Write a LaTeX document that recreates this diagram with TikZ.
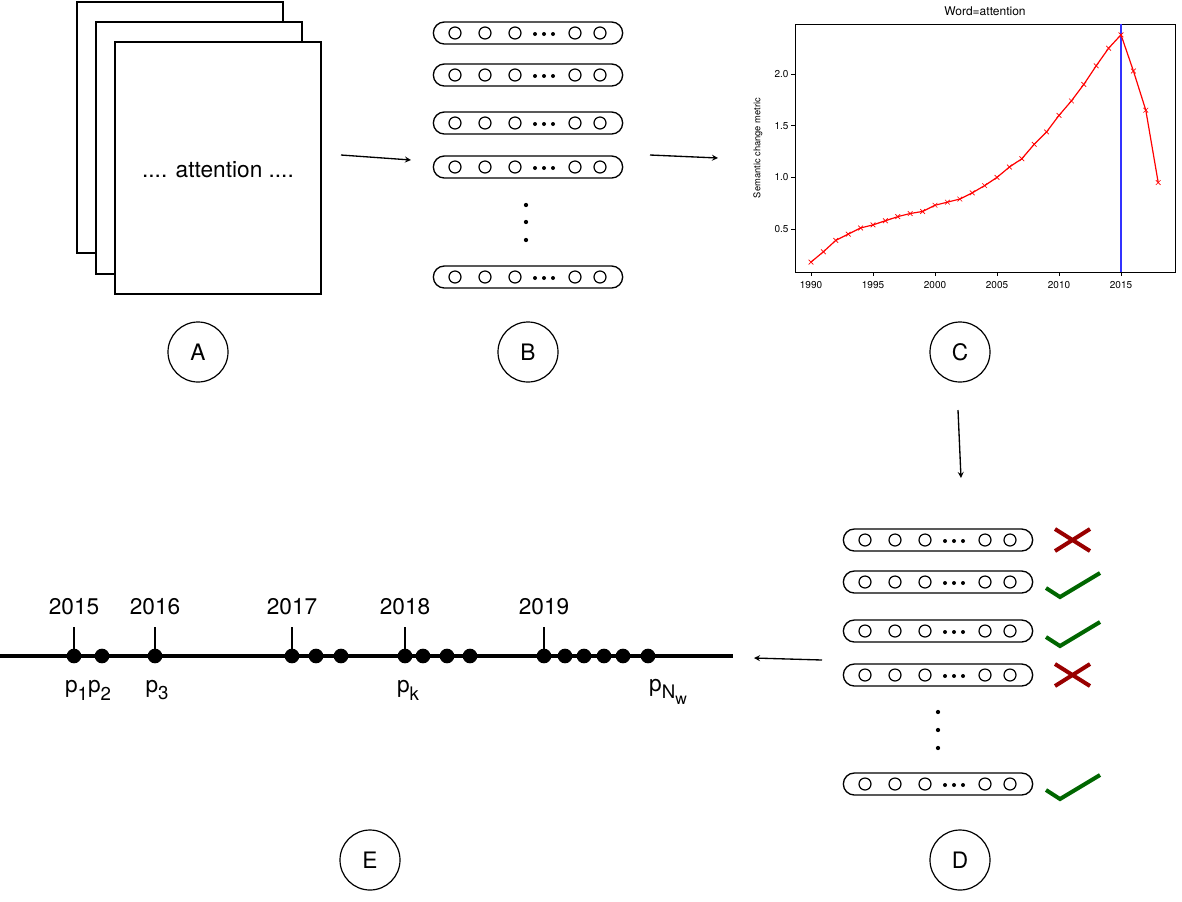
\documentclass[tikz,border=0pt]{standalone}
\usepackage{fontspec}
\setmainfont{TeX Gyre Heros}
\newcommand{\sbs}[1]{\raisebox{-0.35em}{\fontsize{14}{16}\selectfont #1}}
\begin{document}
\begin{tikzpicture}[x=0.75pt,y=-0.75pt,
  page/.style={draw,fill=white,line width=1.1pt},
  lbl/.style={draw,circle,minimum size=45pt,inner sep=0pt,line width=0.9pt,font=\fontsize{17}{20}\selectfont},
  arr/.style={-stealth,line width=1pt},
  caps/.style={draw,rounded corners=8.25pt,minimum width=142pt,minimum height=16.5pt,line width=1pt,inner sep=0pt},
  sc/.style={draw,circle,minimum size=9pt,inner sep=0pt,line width=0.9pt},
  tdot/.style={fill,circle,minimum size=11pt,inner sep=0pt},
  big/.style={font=\fontsize{17}{20}\selectfont},
  ck/.style={draw=green!40!black,line width=3pt},
  xx/.style={draw=red!60!black,line width=3pt}]
\useasboundingbox (0,0) rectangle (1182,901);
% A
\draw[page] (77,2) rectangle (283,253);
\draw[page] (96,22) rectangle (302,274);
\draw[page] (115,42) rectangle (321,294);
\node[big] (txt) at (218,170) {.... attention ....};
\node[lbl] (A) at (198,352) {A};
\node[lbl] (B) at (528,352) {B};
\node[lbl] (C) at (960,352) {C};
\node[lbl] (D) at (960,860) {D};
\node[lbl] (E) at (370,860) {E};
% capsules
\newcommand{\capsule}[3]{%
  \node[caps] (#3) at (#1,#2) {};
  \foreach \dx in {-73,-43,-13,47,72} \node[sc] at (#1+\dx,#2) {};
  \foreach \dx in {7,16,25} \fill (#1+\dx,#2+1) circle (1.5pt);}
\foreach \yy/\nm in {33/b1,75/b2,123/b3,167/b4,277/b5} {\capsule{528}{\yy}{\nm}}
\foreach \yy in {205,222,240} \fill (526,\yy) circle (1.6pt);
\foreach \yy/\nm in {540/d1,582/d2,631/d3,675/d4,784/d5} {\capsule{938}{\yy}{\nm}}
\foreach \yy in {712,730,748} \fill (938,\yy) circle (1.6pt);
% marks
\foreach \yy in {540,675} {\draw[xx] (1055,\yy-11)--(1090,\yy+11) (1055,\yy+11)--(1090,\yy-11);}
\foreach \yy in {582,631,784} {\draw[ck] (1046,\yy+6)--(1060,\yy+15)--(1100,\yy-9);}
% arrows
\coordinate (a1) at (341,155); \coordinate (a2) at (411,160);
\coordinate (b1) at (650,155); \coordinate (b2) at (718,158);
\coordinate (c1) at (958,410); \coordinate (c2) at (961,478);
\coordinate (d1) at (822,660); \coordinate (d2) at (754,658);
\draw[arr] (a1)--(a2); \draw[arr] (b1)--(b2); \draw[arr] (c1)--(c2); \draw[arr] (d1)--(d2);
% timeline
\coordinate (t0) at (0,656); \coordinate (t1) at (733,656);
\draw[line width=2.4pt] (t0)--(t1);
\foreach \xx in {74,102,155,292,316,341,405,423,447,470,544,565,584,604,623,648} \node[tdot] at (\xx,656) {};
\foreach \xx/\yr in {74/2015,155/2016,292/2017,405/2018,544/2019} {
  \draw[line width=0.9pt] (\xx,627)--(\xx,656);
  \node[big] at (\xx,607) {\yr};}
\node[big] at (88,690) {p\sbs{1}p\sbs{2}};
\node[big] at (157,690) {p\sbs{3}};
\node[big] at (408,690) {p\sbs{k}};
\node[big] at (668,692) {p\raisebox{-0.3em}{\fontsize{14}{16}\selectfont N\raisebox{-0.3em}{\fontsize{12}{14}\selectfont w}}};
% chart
\draw[line width=0.6pt] (795,24) rectangle (1175,272);
\node[font=\fontsize{9}{10}\selectfont] at (985,11) {Word=attention};
\node[rotate=90,font=\fontsize{7}{8}\selectfont] at (758,148) {Semantic change metric};
\foreach \v in {0.5,1.0,1.5,2.0} {
  \pgfmathsetmacro\py{229-(\v-0.5)*103.3}
  \draw (795,\py)--(791,\py);
  \node[anchor=east,font=\fontsize{7.5}{8}\selectfont,inner sep=1pt] at (790,\py) {\v};}
\foreach \yr in {1990,1995,2000,2005,2010,2015} {
  \pgfmathsetmacro\px{811+(\yr-1990)*12.4}
  \draw (\px,272)--(\px,276);
  \node[font=\fontsize{7.5}{8}\selectfont] at (\px,285) {\yr};}
\draw[blue!80!white,line width=1.2pt] (1121,24)--(1121,272);
\draw[red,line width=0.9pt] plot[mark=x,mark size=2.5pt,mark options={red,line width=0.5pt}] coordinates {
(811,{229-(0.18-0.5)*103.3}) (823.4,{229-(0.28-0.5)*103.3}) (835.8,{229-(0.39-0.5)*103.3})
(848.2,{229-(0.45-0.5)*103.3}) (860.6,{229-(0.51-0.5)*103.3}) (873,{229-(0.54-0.5)*103.3})
(885.4,{229-(0.58-0.5)*103.3}) (897.8,{229-(0.62-0.5)*103.3}) (910.2,{229-(0.65-0.5)*103.3})
(922.6,{229-(0.67-0.5)*103.3}) (935,{229-(0.73-0.5)*103.3}) (947.4,{229-(0.76-0.5)*103.3})
(959.8,{229-(0.79-0.5)*103.3}) (972.2,{229-(0.85-0.5)*103.3}) (984.6,{229-(0.92-0.5)*103.3})
(997,{229-(1.0-0.5)*103.3}) (1009.4,{229-(1.1-0.5)*103.3}) (1021.8,{229-(1.18-0.5)*103.3})
(1034.2,{229-(1.32-0.5)*103.3}) (1046.6,{229-(1.44-0.5)*103.3}) (1059,{229-(1.6-0.5)*103.3})
(1071.4,{229-(1.74-0.5)*103.3}) (1083.8,{229-(1.9-0.5)*103.3}) (1096.2,{229-(2.08-0.5)*103.3})
(1108.6,{229-(2.25-0.5)*103.3}) (1121,{229-(2.38-0.5)*103.3}) (1133.4,{229-(2.03-0.5)*103.3})
(1145.8,{229-(1.65-0.5)*103.3}) (1158.2,{229-(0.95-0.5)*103.3})};
\end{tikzpicture}
\end{document}
